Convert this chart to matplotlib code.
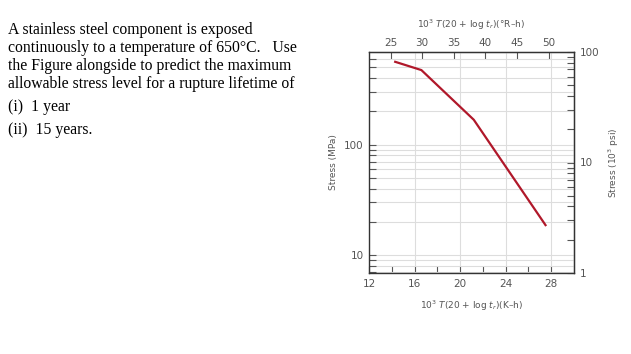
import numpy as np
import matplotlib.pyplot as plt
from matplotlib.ticker import LogLocator, NullFormatter, FixedLocator

# Larson-Miller data
lm_param_K = [14.3, 16.6, 21.2, 27.5]      # 10^3 T(20 + log t_r) (K-h)
stress_MPa = [562, 473, 168, 18.7]

x_ticks = [12, 16, 20, 24, 28]
x_minor = [14, 18, 22, 26]
top_ticks = [25, 30, 35, 40, 45, 50]
MPA_PER_KSI = 6.895

question = ("A stainless steel component is exposed\n"
            "continuously to a temperature of 650\u00b0C.   Use\n"
            "the Figure alongside to predict the maximum\n"
            "allowable stress level for a rupture lifetime of")
parts = ["(i)  1 year", "(ii)  15 years."]

grey = "#555555"
fig = plt.figure(figsize=(6.31, 3.54), dpi=100)

# question text on the left
fig.text(8 / 631, 1 - 22 / 354, question, family="Liberation Serif",
         fontsize=11.3, va="top", ha="left", linespacing=1.17)
fig.text(8 / 631, 1 - 107 / 354, parts[0], family="Liberation Serif",
         fontsize=11.3, va="center", ha="left")
fig.text(8 / 631, 1 - 130 / 354, parts[1], family="Liberation Serif",
         fontsize=11.3, va="center", ha="left")

ax = fig.add_axes([369 / 631, 81 / 354, 205 / 631, 221 / 354])
ax.plot(lm_param_K, stress_MPa, color="#b0182a", lw=1.6, zorder=3)

ax.set_xlim(12, 30)
ax.set_yscale("log")
ax.set_ylim(MPA_PER_KSI, 100 * MPA_PER_KSI)

ax.set_xticks(x_ticks)
ax.xaxis.set_minor_locator(FixedLocator(x_minor))
ax.yaxis.set_major_locator(FixedLocator([10, 100]))
ax.yaxis.set_minor_locator(LogLocator(base=10, subs=np.arange(2, 10)))
ax.yaxis.set_minor_formatter(NullFormatter())
ax.set_yticklabels(["10", "100"])

ax.grid(True, which="major", axis="x", color="#dddddd", lw=0.8)
ax.grid(True, which="both", axis="y", color="#dddddd", lw=0.8)
ax.set_axisbelow(True)

ax.tick_params(which="both", direction="in", colors=grey, labelsize=7.5,
               labelcolor=grey, width=0.8, length=5)
ax.tick_params(which="major", pad=4)
for s in ax.spines.values():
    s.set_color("#333333")
    s.set_linewidth(1.0)

ax.set_xlabel("10$^3$ $T$(20 + log $t_r$)(K\u2013h)", fontsize=6.5,
              color=grey, labelpad=7)
ax.set_ylabel("Stress (MPa)", fontsize=6.5, color=grey, labelpad=4)

# top axis in degrees Rankine
top = ax.secondary_xaxis("top", functions=(lambda k: k * 1.8, lambda r: r / 1.8))
top.set_xticks(top_ticks)
top.tick_params(direction="in", length=5, colors=grey, labelsize=7.5,
                labelcolor=grey, width=0.8, pad=3)
top.set_xlabel("10$^3$ $T$(20 + log $t_r$)(\u00b0R\u2013h)", fontsize=6.5,
               color=grey, labelpad=7)

# right axis in ksi
right = ax.secondary_yaxis("right", functions=(lambda m: m / MPA_PER_KSI,
                                               lambda k: k * MPA_PER_KSI))
right.set_yscale("log")
right.yaxis.set_major_locator(FixedLocator([1, 10, 100]))
right.yaxis.set_minor_locator(LogLocator(base=10, subs=np.arange(2, 10)))
right.yaxis.set_minor_formatter(NullFormatter())
right.set_yticklabels(["1", "10", "100"])
right.tick_params(which="both", direction="in", length=5, colors=grey,
                  labelsize=7.5, labelcolor=grey, width=0.8, pad=4)
right.set_ylabel("Stress (10$^3$ psi)", fontsize=6.5, color=grey, labelpad=5)

fig.savefig("out.png", dpi=100)
